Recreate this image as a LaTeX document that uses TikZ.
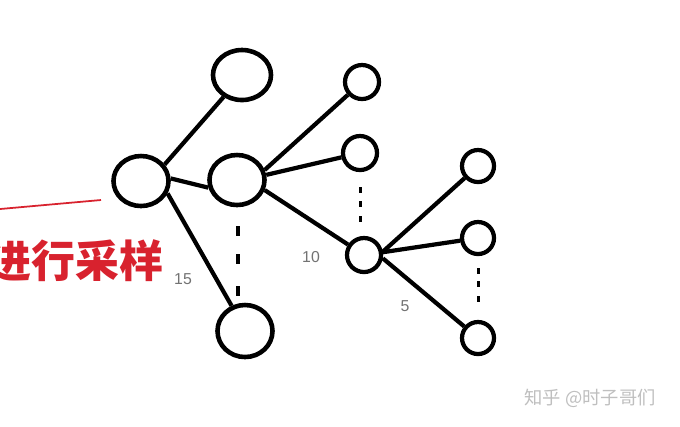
\documentclass[tikz,border=0pt]{standalone}
\usepackage{fontspec}
\setmainfont{Liberation Sans}
\newfontfamily\cjk{Noto Sans CJK SC}
\usetikzlibrary{shapes.geometric}

\definecolor{notered}{HTML}{D8222E}

\tikzset{
  bignode/.style={draw, ellipse, line width=1.3pt, inner sep=0pt, minimum width=0.55cm, minimum height=0.5cm},
  smallnode/.style={draw, circle, line width=1.2pt, inner sep=0pt, minimum size=0.34cm},
  edge/.style={line width=1.2pt},
  weight/.style={text=gray!90!black, font=\fontsize{4.5}{5}\selectfont}
}

\begin{document}
\begin{tikzpicture}[x=0.01cm, y=-0.01cm]
  \useasboundingbox[fill=white] (0,0) rectangle (680,426);

  % Define nodes
  \node[bignode] (root) at (141,181) {};
  \node[bignode, minimum width=0.58cm] (top) at (242,75) {};
  \node[bignode] (mid) at (237,180) {};
  \node[bignode, minimum height=0.52cm] (bot) at (245,331) {};
  \node[smallnode] (s1) at (362,82) {};
  \node[smallnode] (s2) at (360,153) {};
  \node[smallnode] (s3) at (364,255) {};
  \node[smallnode, minimum size=0.32cm] (r1) at (478,166) {};
  \node[smallnode, minimum size=0.32cm] (r2) at (478,238) {};
  \node[smallnode, minimum size=0.32cm] (r3) at (478,338) {};

  % Draw edges
  \draw[edge] (root.35) -- (top.230);
  \draw[edge] (root.5) -- (mid.195);
  \draw[edge] (root.-25) -- (bot.118);
  \draw[edge] (mid.20) -- (s1);
  \draw[edge] (mid.10) -- (s2);
  \draw[edge] (mid.-20) -- (s3);
  \draw[edge] (s3.10) -- (r1);
  \draw[edge] (s3) -- (r2);
  \draw[edge] (s3.-10) -- (r3);

  % Draw dots
  \foreach \y in {226,254,286} \fill (236,\y) rectangle ++(4,10);
  \foreach \y in {187,201,216} \fill (359,\y) rectangle ++(3,6);
  \foreach \y in {268,281,296} \fill (477,\y) rectangle ++(3,6);

  % Label weights
  \node[weight] (w10) at (311,257) {10};
  \node[weight] (w5) at (405,306) {5};

  % Red annotation
  \draw[notered, line width=0.5pt] (0,209) -- (101,200);
  \node[weight] (w15) at (183,279) {15};
  \node[anchor=east, text=notered, font=\cjk\bfseries\fontsize{12.5}{14}\selectfont] (sample) at (176,261) {进行采样};

  % Watermark
  \node[text=gray!50, font=\cjk\fontsize{5.2}{6}\selectfont] (mark) at (590,398) {知乎 @时子哥们};
\end{tikzpicture}
\end{document}
